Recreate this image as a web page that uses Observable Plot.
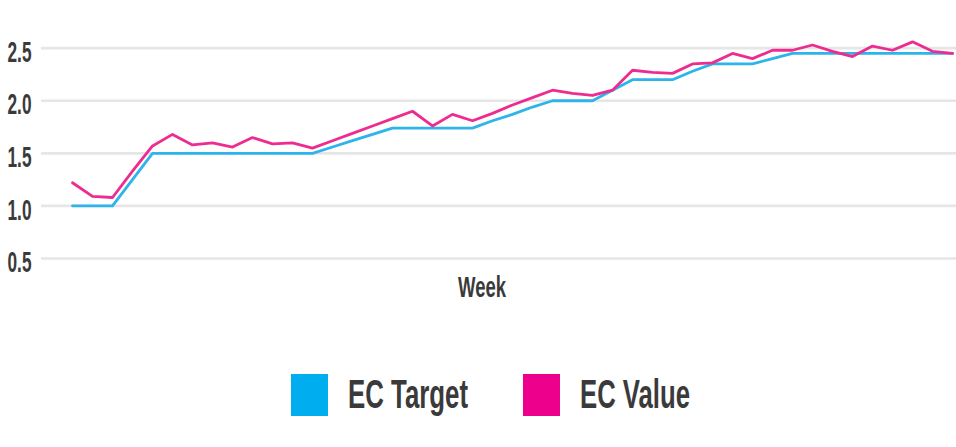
<!DOCTYPE html>
<html>
<head>
<meta charset="utf-8">
<script src="https://cdn.jsdelivr.net/npm/d3@7"></script>
<script src="https://cdn.jsdelivr.net/npm/@observablehq/plot@0.6"></script>
<style>
  html, body { margin: 0; padding: 0; background: #fff; }
  #chart svg { display: block; }
  #legend { display: block; }
</style>
</head>
<body>
<div id="chart"></div>
<svg id="legend" width="956" height="117"></svg>
<script>
const weeks = [1,2,3,4,5,6,7,8,9,10,11,12,13,14,15,16,17,18,19,20,21,22,23,24,25,26,27,28,29,30,31,32,33,34,35,36,37,38,39,40,41,42,43,44,45];
const ecTarget = [1.0,1.0,1.0,1.25,1.5,1.5,1.5,1.5,1.5,1.5,1.5,1.5,1.5,1.56,1.62,1.68,1.74,1.74,1.74,1.74,1.74,1.81,1.87,1.94,2.0,2.0,2.0,2.1,2.2,2.2,2.2,2.28,2.35,2.35,2.35,2.4,2.45,2.45,2.45,2.45,2.45,2.45,2.45,2.45,2.45];
const ecValue = [1.22,1.09,1.08,1.33,1.57,1.68,1.58,1.60,1.56,1.65,1.59,1.60,1.55,1.62,1.69,1.76,1.83,1.90,1.76,1.87,1.81,1.88,1.96,2.03,2.10,2.07,2.05,2.10,2.29,2.27,2.26,2.35,2.36,2.45,2.40,2.48,2.48,2.53,2.47,2.42,2.52,2.48,2.56,2.47,2.45];
const yTicks = [0.5, 1.0, 1.5, 2.0, 2.5];
const seriesNames = ["EC Target", "EC Value"];
const xLabel = "Week";

const lineBlue = "#2db4ea", linePink = "#ee2c8f";
const legBlue = "#00aeef", legPink = "#ec008c";
const textColor = "#3a3a3a";
const fontFam = "'Liberation Sans Narrow','Liberation Sans',Arial,sans-serif";

const targetData = weeks.map((w, i) => ({week: w, v: ecTarget[i]}));
const valueData = weeks.map((w, i) => ({week: w, v: ecValue[i]}));

const chart = Plot.plot({
  width: 956,
  height: 330,
  marginLeft: 41,
  marginRight: 0,
  marginTop: 0,
  marginBottom: 72,
  style: {fontFamily: fontFam, background: "#fff"},
  x: {domain: [-0.55, 45.2], axis: null},
  y: {domain: [0.5, 2.953]},
  marks: [
    Plot.ruleY(yTicks, {stroke: "#e6e6e6", strokeWidth: 2.7}),
    Plot.axisY({ticks: yTicks, tickSize: 0, tickPadding: 10, tickFormat: d3.format(".1f"),
      label: null, fontSize: 30, fontWeight: "bold", fill: textColor, dy: 4}),
    Plot.line(targetData, {x: "week", y: "v", stroke: lineBlue, strokeWidth: 2.8}),
    Plot.line(valueData, {x: "week", y: "v", stroke: linePink, strokeWidth: 2.8}),
    Plot.text([xLabel], {frameAnchor: "bottom", dx: -17, dy: 38.5, fontSize: 29,
      fontWeight: "bold", fill: textColor, className: "xlab"})
  ]
});
document.getElementById("chart").appendChild(chart);

// condense tick labels
chart.querySelectorAll('g[aria-label="y-axis tick label"] text').forEach(t => {
  t.setAttribute("textLength", 24);
  t.setAttribute("lengthAdjust", "spacingAndGlyphs");
});
chart.querySelectorAll('.xlab text, g.xlab text').forEach(t => {
  t.setAttribute("textLength", 48);
  t.setAttribute("lengthAdjust", "spacingAndGlyphs");
});

// legend
const leg = d3.select("#legend");
const items = [
  {name: seriesNames[0], color: legBlue, x: 291, tx: 348, tl: 120},
  {name: seriesNames[1], color: legPink, x: 523, tx: 580, tl: 110}
];
items.forEach(d => {
  leg.append("rect").attr("x", d.x).attr("y", 44).attr("width", 37).attr("height", 42).attr("fill", d.color);
  leg.append("text").attr("x", d.tx).attr("y", 78).text(d.name)
    .attr("font-family", fontFam).attr("font-size", 41).attr("font-weight", "bold")
    .attr("fill", textColor).attr("textLength", d.tl).attr("lengthAdjust", "spacingAndGlyphs");
});
</script>
</body>
</html>
